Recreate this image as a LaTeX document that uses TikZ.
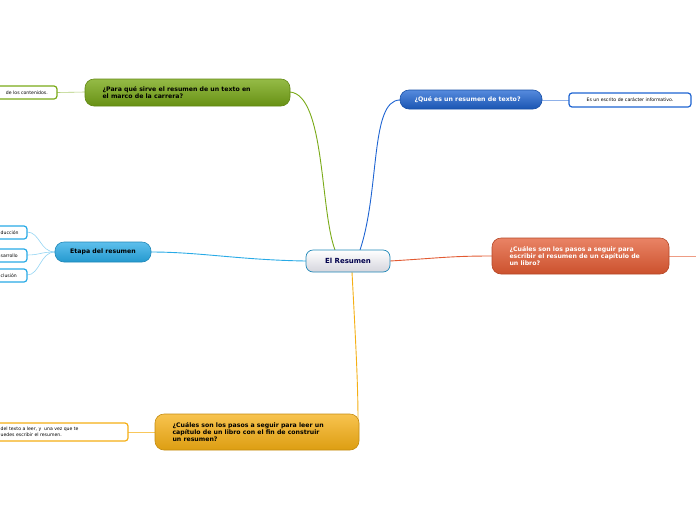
\documentclass[tikz,border=0pt]{standalone}
\usepackage{fontspec}
\setmainfont{DejaVu Sans}
\begin{document}
\begin{tikzpicture}[x=1pt,y=-1pt,
 mainbox/.style={rounded corners=9pt,draw=#1!80!black,line width=0.6pt,inner sep=0pt},
 leafbox/.style={rounded corners=3pt,draw=#1,line width=1.2pt,fill=white},
 ttl/.style={font=\bfseries\fontsize{6.2}{7}\selectfont,align=left,anchor=west},
 lft/.style={font=\fontsize{4.6}{5.6}\selectfont,align=left,anchor=east,inner sep=0pt},
 conn/.style={line width=0.9pt}]
\useasboundingbox (0,0) rectangle (696,520);
\clip (0,0) rectangle (696,520);
\definecolor{gr}{RGB}{122,170,24}
\definecolor{bl}{RGB}{30,100,210}
\definecolor{cy}{RGB}{40,170,230}
\definecolor{og}{RGB}{226,90,50}
\definecolor{yl}{RGB}{245,175,20}
% connectors
\coordinate (cgr) at (335,250); \coordinate (cbl) at (360,250);
\coordinate (ccy) at (306,261); \coordinate (cog) at (390,261);
\coordinate (cyl) at (352,272);
\draw[conn,gr] (cgr) .. controls (320,210) and (325,95) .. (290,92);
\draw[conn,bl] (cbl) .. controls (380,190) and (370,100) .. (400,100);
\draw[conn,cy] (ccy) .. controls (240,260) and (200,252) .. (151,252);
\draw[conn,og] (cog) .. controls (440,258) and (450,256) .. (492,256);
\draw[conn,yl] (cyl) .. controls (355,330) and (358,380) .. (358,420);
\draw[gr!60,line width=0.6pt] (85,92) -- (57,92.5);
\draw[bl!50,line width=0.6pt] (542,100) -- (569,100);
\draw[og!60,line width=0.6pt] (669,256) -- (696,256);
\draw[yl!70,line width=0.6pt] (155,432) -- (128,432);
\draw[cy!50,line width=0.6pt] (55,252) .. controls (40,252) and (40,232) .. (27,232);
\draw[cy!50,line width=0.6pt] (55,252) .. controls (40,252) and (40,255) .. (27,255);
\draw[cy!50,line width=0.6pt] (55,252) .. controls (40,252) and (40,275) .. (27,275);
% main boxes
\draw[mainbox=gr,top color=gr!80!white,bottom color=gr!85!black] (85,79) rectangle (290,106);
\node[ttl] (qgr) at (99,92.5) {¿Para qué sirve el resumen de un texto en\\el marco de la carrera?};
\draw[mainbox=bl,top color=bl!75!white,bottom color=bl!85!black] (400,90) rectangle (542,109);
\node[ttl,text=white] (qbl) at (411,99.5) {¿Qué es un resumen de texto?};
\draw[mainbox=cy,top color=cy!75!white,bottom color=cy!90!black] (55,242) rectangle (151,262);
\node[ttl,anchor=center] (qcy) at (103,252) {Etapa del resumen};
\draw[mainbox=og,top color=og!75!white,bottom color=og!90!black] (492,238) rectangle (669,274);
\node[ttl,text=white] (qog) at (506,256) {¿Cuáles son los pasos a seguir para\\escribir el resumen de un capítulo de\\un libro?};
\draw[mainbox=yl,top color=yl!75!white,bottom color=yl!90!black] (155,414) rectangle (359,450);
\node[ttl] (qyl) at (169,432) {¿Cuáles son los pasos a seguir para leer un\\capítulo de un libro con el fin de construir\\un resumen?};
\draw[rounded corners=7pt,draw=cy!80!black,line width=0.7pt,top color=white,bottom color=blue!10!gray!30] (306,250) rectangle (390,272);
\node[font=\bfseries\fontsize{7}{8}\selectfont,text=blue!30!black] (ctr) at (348,261) {El Resumen};
% leaves
\draw[leafbox=gr] (-10,86) rectangle (57,99);
\node[lft] (lgr) at (48,92.5) {de los contenidos.};
\draw[leafbox=bl] (569,93) rectangle (691,107);
\node[lft,anchor=center] (lbl) at (630,100) {Es un escrito de carácter informativo.};
\draw[leafbox=cy] (-10,226) rectangle (27,239);
\node[lft,anchor=west] (l1) at (0.5,232.5) {ducción};
\draw[leafbox=cy] (-10,249) rectangle (27,262);
\node[lft,anchor=west] (l2) at (0.5,255.5) {sarrollo};
\draw[leafbox=cy] (-10,269) rectangle (27,282);
\node[lft,anchor=west] (l3) at (0.5,275.5) {clusión};
\draw[leafbox=yl] (-10,423) rectangle (128,441);
\node[lft,anchor=west] (lyl) at (0.5,432) {del texto a leer, y\ \ una vez que te\\uedes escribir el resumen.};
\end{tikzpicture}
\end{document}
